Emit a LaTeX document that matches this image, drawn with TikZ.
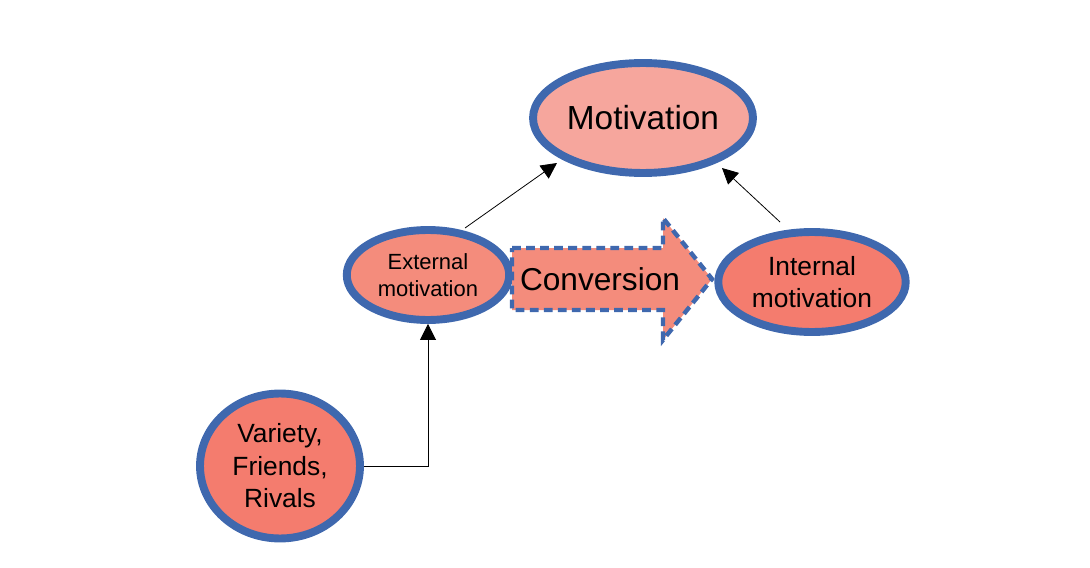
\documentclass[tikz,border=0pt]{standalone}
\usepackage{fontspec}
\setmainfont{Liberation Sans}
\usetikzlibrary{shapes.geometric,arrows.meta}
\definecolor{bord}{HTML}{3F68AE}
\definecolor{fA}{HTML}{F6A69D}
\definecolor{fB}{HTML}{F48C7C}
\definecolor{fC}{HTML}{F47C6E}
\tikzset{
 ell/.style={ellipse,draw=bord,line width=4.5pt,align=center,inner sep=0pt},
 con/.style={draw=black,line width=0.45pt,-{Triangle[length=9pt,width=9pt]}}
}
\begin{document}
\begin{tikzpicture}[x=0.02cm,y=-0.02cm]
\useasboundingbox (0,0) rectangle (1090,568);
\node[ell,fill=fA,minimum width=4.4cm,minimum height=2.2cm,font=\fontsize{19}{21}\selectfont] (mot) at (643,118) {Motivation};
\node[ell,fill=fB,minimum width=3.25cm,minimum height=1.8cm,font=\fontsize{12.5}{15.5}\selectfont] (ext) at (428,275) {External\\motivation};
\node[ell,fill=fC,minimum width=3.75cm,minimum height=2.0cm,font=\fontsize{15}{18}\selectfont] (int) at (812,282) {Internal\\motivation};
\node[ell,fill=fC,minimum width=3.2cm,minimum height=2.9cm,font=\fontsize{15}{18.5}\selectfont] (var) at (280,466) {Variety,\\Friends,\\Rivals};
\draw[draw=bord,dashed,dash pattern=on 5pt off 3pt,line width=2.5pt,fill=fB]
 (512,248) -- (663,248) -- (663,218) -- (712,279) -- (663,340) -- (663,310) -- (512,310) -- cycle;
\node[font=\fontsize{18}{21}\selectfont] (conv) at (600,279) {Conversion};
\coordinate (a1) at (465,228);
\coordinate (b1) at (780,222);
\draw[con] (a1) -- (557,163);
\draw[con] (b1) -- (722,168);
\draw[con] (var.east) -| (ext.south);
\end{tikzpicture}
\end{document}
